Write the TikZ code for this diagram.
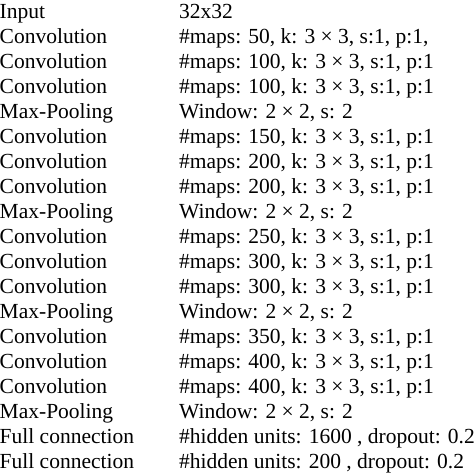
\documentclass[tikz,border=0pt]{standalone}
\usepackage{fontspec}
\setmainfont{Liberation Serif}
\begin{document}
\begin{tikzpicture}[x=1pt,y=1pt,
        every node/.style={inner sep=0pt,anchor=base west,font=\fontsize{21.5}{25}\selectfont}]
    \useasboundingbox (0,0) rectangle (474,-474);
    \foreach \layer/\param [count=\i from 0] in {
            {Input/32x32},
            {Convolution/\#maps: 50, k: 3 × 3, s:1, p:1,},
            {Convolution/\#maps: 100, k: 3 × 3, s:1, p:1},
            {Convolution/\#maps: 100, k: 3 × 3, s:1, p:1},
            {Max-Pooling/Window: 2 × 2, s: 2},
            {Convolution/\#maps: 150, k: 3 × 3, s:1, p:1},
            {Convolution/\#maps: 200, k: 3 × 3, s:1, p:1},
            {Convolution/\#maps: 200, k: 3 × 3, s:1, p:1},
            {Max-Pooling/Window: 2 × 2, s: 2},
            {Convolution/\#maps: 250, k: 3 × 3, s:1, p:1},
            {Convolution/\#maps: 300, k: 3 × 3, s:1, p:1},
            {Convolution/\#maps: 300, k: 3 × 3, s:1, p:1},
            {Max-Pooling/Window: 2 × 2, s: 2},
            {Convolution/\#maps: 350, k: 3 × 3, s:1, p:1},
            {Convolution/\#maps: 400, k: 3 × 3, s:1, p:1},
            {Convolution/\#maps: 400, k: 3 × 3, s:1, p:1},
            {Max-Pooling/Window: 2 × 2, s: 2},
            {Full connection/\#hidden units: 1600 , dropout: 0.2},
            {Full connection/\#hidden units: 200 , dropout: 0.2}} {
        \node (layer\i) at (-0.5,{-18.3-25*\i}) {\layer};
        \node (param\i) at (179,{-18.3-25*\i}) {\param};
    }
\end{tikzpicture}
\end{document}
